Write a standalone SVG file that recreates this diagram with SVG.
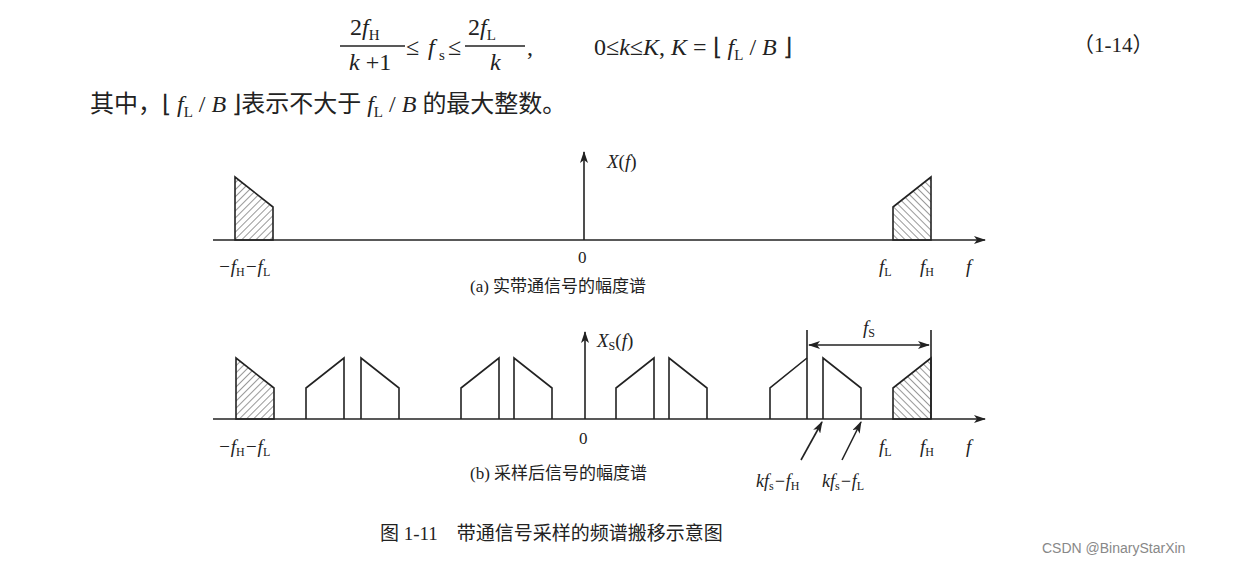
<svg xmlns="http://www.w3.org/2000/svg" width="1242" height="567" viewBox="0 0 1242 567">
<style>
.s{font-family:"Liberation Serif","Noto Sans CJK SC",serif;fill:#222}
.i{font-style:italic}
.ln{stroke:#222;stroke-width:1.6;fill:none}
.sh{stroke:#222;stroke-width:1.6;fill:url(#h1)}
.sh2{stroke:#222;stroke-width:1.6;fill:url(#h2)}
</style>
<defs>
<pattern id="h1" width="5" height="5" patternUnits="userSpaceOnUse" patternTransform="rotate(45)"><line x1="0" y1="0" x2="0" y2="5" stroke="#333" stroke-width="1"/></pattern>
<pattern id="h2" width="5" height="5" patternUnits="userSpaceOnUse" patternTransform="rotate(-45)"><line x1="0" y1="0" x2="0" y2="5" stroke="#333" stroke-width="1"/></pattern>
<marker id="a" markerWidth="12" markerHeight="8" refX="11" refY="4" orient="auto-start-reverse" markerUnits="userSpaceOnUse"><path d="M0,0 L12,4 L0,8 L3,4 Z" fill="#222"/></marker>
</defs>
<rect width="1242" height="567" fill="#fff"/>
<g id="formula">
<text x="350" y="35" class="s" font-size="24">2<tspan class="i">f</tspan><tspan font-size="15" dy="5">H</tspan></text>
<line x1="340" y1="46" x2="405" y2="46" stroke="#222" stroke-width="1.5"/>
<text x="349" y="70" class="s i" font-size="24">k<tspan font-style="normal"> +1</tspan></text>
<text x="406" y="55" class="s" font-size="24">≤</text>
<text x="428" y="55" class="s i" font-size="24">f</text>
<text x="439" y="60" class="s" font-size="15">s</text>
<text x="448" y="55" class="s" font-size="24">≤</text>
<text x="468" y="35" class="s" font-size="24">2<tspan class="i">f</tspan><tspan font-size="15" dy="5">L</tspan></text>
<line x1="465" y1="46" x2="525" y2="46" stroke="#222" stroke-width="1.5"/>
<text x="490" y="70" class="s i" font-size="24">k</text>
<text x="527" y="55" class="s" font-size="24">,</text>
<text x="594" y="55" class="s" font-size="24">0≤<tspan class="i">k</tspan>≤<tspan class="i">K</tspan>, <tspan class="i">K</tspan> = ⌊ <tspan class="i">f</tspan><tspan font-size="15" dy="5">L</tspan><tspan dy="-5"> / </tspan><tspan class="i">B</tspan> ⌋</text>
<text x="1073" y="52" class="s" font-size="21">（1-14）</text>
<text x="90" y="112" class="s" font-size="24">其中，⌊ <tspan class="i">f</tspan><tspan font-size="15" dy="5">L</tspan><tspan dy="-5"> / </tspan><tspan class="i">B</tspan> ⌋表示不大于 <tspan class="i">f</tspan><tspan font-size="15" dy="5">L</tspan><tspan dy="-5"> / </tspan><tspan class="i">B</tspan> 的最大整数。</text>
</g>
<g id="plot-a">
<line x1="213" y1="240" x2="985" y2="240" class="ln" marker-end="url(#a)"/>
<line x1="584" y1="240" x2="584" y2="152" class="ln" marker-end="url(#a)"/>
<polygon points="235,240 235,177 273,207 273,240" class="sh"/>
<polygon points="893,240 893,207 931,177 931,240" class="sh2"/>
<text x="607" y="168" class="s" font-size="19"><tspan class="i">X</tspan>(<tspan class="i">f</tspan>)</text>
<text x="578" y="263" class="s" font-size="17">0</text>
<text x="218" y="273" class="s i" font-size="19">−f<tspan font-size="12" font-style="normal" dy="3">H</tspan><tspan dy="-3">−f</tspan><tspan font-size="12" font-style="normal" dy="3">L</tspan></text>
<text x="879" y="273" class="s i" font-size="19">f<tspan font-size="12" font-style="normal" dy="3">L</tspan></text>
<text x="920" y="273" class="s i" font-size="19">f<tspan font-size="12" font-style="normal" dy="3">H</tspan></text>
<text x="966" y="273" class="s i" font-size="19">f</text>
<text x="470" y="292" class="s" font-size="17">(a) 实带通信号的幅度谱</text>
</g>
<g id="plot-b">
<line x1="213" y1="419" x2="985" y2="419" class="ln" marker-end="url(#a)"/>
<line x1="585" y1="419" x2="585" y2="332" class="ln" marker-end="url(#a)"/>
<polygon points="236,419 236,358 274,388 274,419" class="sh"/>
<polyline points="306,419 306,388 344,358 344,419" class="ln"/>
<polyline points="361,419 361,358 399,388 399,419" class="ln"/>
<polyline points="461,419 461,388 499,358 499,419" class="ln"/>
<polyline points="514,419 514,358 552,388 552,419" class="ln"/>
<polyline points="616,419 616,388 654,358 654,419" class="ln"/>
<polyline points="669,419 669,358 707,388 707,419" class="ln"/>
<polyline points="770,419 770,388 807,358" class="ln"/>
<polyline points="823,419 823,358 861,388 861,419" class="ln"/>
<polygon points="893,419 893,388 931,358 931,419" class="sh2"/>
<line x1="807" y1="419" x2="807" y2="330" class="ln"/>
<line x1="931" y1="419" x2="931" y2="330" class="ln"/>
<line x1="809" y1="345" x2="929" y2="345" class="ln" marker-start="url(#a)" marker-end="url(#a)"/>
<line x1="801" y1="460" x2="822" y2="422" class="ln" marker-end="url(#a)"/>
<line x1="842" y1="460" x2="861" y2="422" class="ln" marker-end="url(#a)"/>
<text x="597" y="347" class="s" font-size="19"><tspan class="i">X</tspan><tspan font-size="12" dy="3">S</tspan><tspan dy="-3">(</tspan><tspan class="i">f</tspan>)</text>
<text x="863" y="334" class="s i" font-size="19">f<tspan font-size="12" font-style="normal" dy="3">S</tspan></text>
<text x="579" y="444" class="s" font-size="17">0</text>
<text x="218" y="453" class="s i" font-size="19">−f<tspan font-size="12" font-style="normal" dy="3">H</tspan><tspan dy="-3">−f</tspan><tspan font-size="12" font-style="normal" dy="3">L</tspan></text>
<text x="879" y="453" class="s i" font-size="19">f<tspan font-size="12" font-style="normal" dy="3">L</tspan></text>
<text x="920" y="453" class="s i" font-size="19">f<tspan font-size="12" font-style="normal" dy="3">H</tspan></text>
<text x="966" y="453" class="s i" font-size="19">f</text>
<text x="756" y="487" class="s i" font-size="18">kf<tspan font-size="12" font-style="normal" dy="3">s</tspan><tspan dy="-3">−f</tspan><tspan font-size="12" font-style="normal" dy="3">H</tspan></text>
<text x="822" y="487" class="s i" font-size="18">kf<tspan font-size="12" font-style="normal" dy="3">s</tspan><tspan dy="-3">−f</tspan><tspan font-size="12" font-style="normal" dy="3">L</tspan></text>
<text x="470" y="479" class="s" font-size="17">(b) 采样后信号的幅度谱</text>
</g>
<text x="380" y="540" class="s" font-size="19">图 1-11　带通信号采样的频谱搬移示意图</text>
<text x="1042" y="553" font-family="Liberation Sans,sans-serif" font-size="14" fill="#888">CSDN @BinaryStarXin</text>
</svg>
